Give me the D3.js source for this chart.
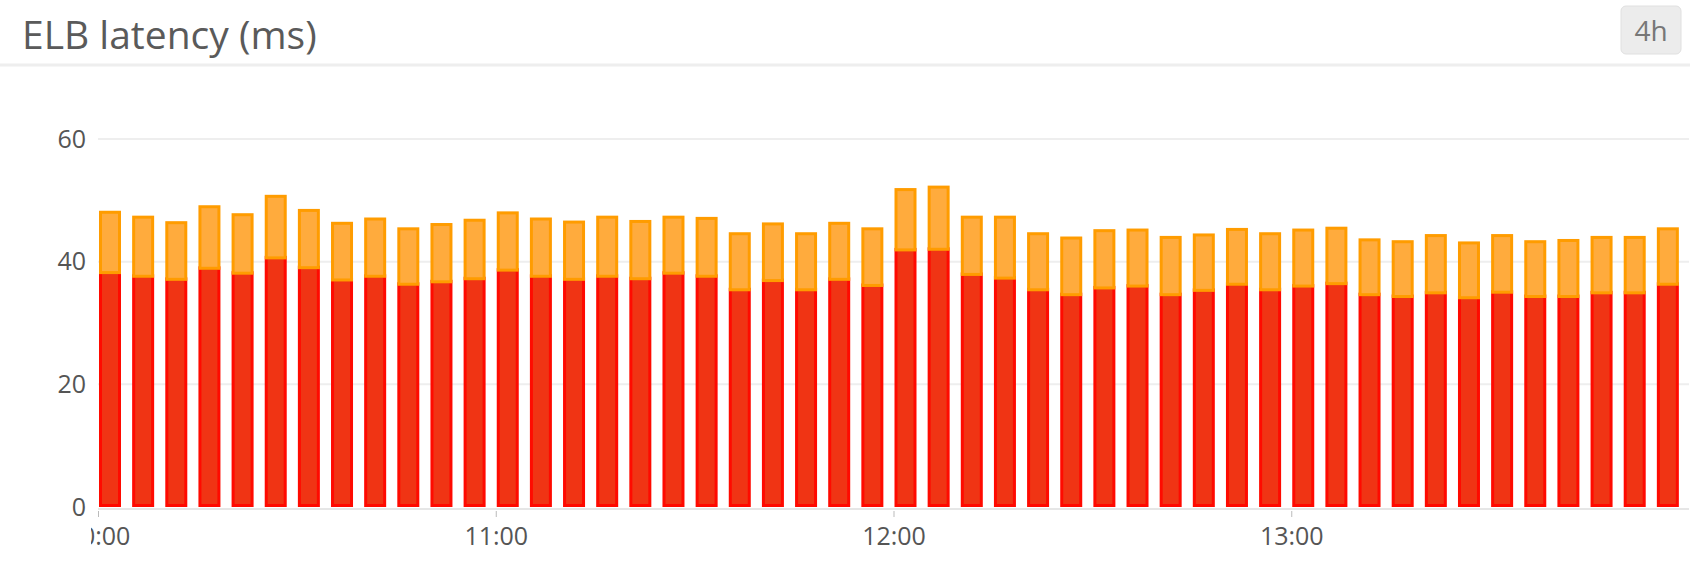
<!DOCTYPE html>
<html>
<head>
<meta charset="utf-8">
<script src="https://cdn.jsdelivr.net/npm/d3@7"></script>
<style>
  body { margin: 0; background: #fff; }
  text { font-family: "Open Sans", sans-serif; }
</style>
</head>
<body>
<script>
// 5 minute buckets, 10:00 -> 13:55
var times = ["10:00","10:05","10:10","10:15","10:20","10:25","10:30","10:35","10:40","10:45","10:50","10:55",
             "11:00","11:05","11:10","11:15","11:20","11:25","11:30","11:35","11:40","11:45","11:50","11:55",
             "12:00","12:05","12:10","12:15","12:20","12:25","12:30","12:35","12:40","12:45","12:50","12:55",
             "13:00","13:05","13:10","13:15","13:20","13:25","13:30","13:35","13:40","13:45","13:50","13:55"];

// lower (red) part of each bar
var latencyLow = [38.3,37.7,37.2,39.0,38.2,40.7,39.1,37.1,37.7,36.4,36.8,37.3,
                  38.7,37.7,37.2,37.7,37.3,38.2,37.7,35.5,37.0,35.5,37.2,36.2,
                  42.0,42.1,38.0,37.4,35.5,34.7,35.8,36.1,34.7,35.4,36.4,35.5,
                  36.1,36.5,34.7,34.4,35.0,34.2,35.1,34.4,34.4,35.0,35.0,36.4];

// top of the orange part of each bar
var latencyHigh = [48.3,47.5,46.6,49.2,47.9,50.9,48.6,46.5,47.2,45.6,46.3,47.0,
                   48.2,47.2,46.7,47.5,46.8,47.5,47.3,44.8,46.4,44.8,46.5,45.6,
                   52.0,52.4,47.5,47.5,44.8,44.1,45.3,45.4,44.2,44.6,45.5,44.8,
                   45.4,45.7,43.8,43.5,44.5,43.3,44.5,43.5,43.7,44.2,44.2,45.6];

var yTicks = [0, 20, 40, 60];
var xTicks = ["10:00", "11:00", "12:00", "13:00"];

var W = 1694, H = 576;
var parse = d3.timeParse("%H:%M");

var svg = d3.select("body").append("svg")
    .attr("width", W)
    .attr("height", H);

// header
svg.append("text")
    .attr("x", 22)
    .attr("y", 49)
    .attr("font-size", "39px")
    .attr("fill", "#5a5a5a")
    .text("ELB latency (ms)");

svg.append("line")
    .attr("x1", 0).attr("x2", 1690)
    .attr("y1", 65).attr("y2", 65)
    .attr("stroke", "#eeeeee")
    .attr("stroke-width", 3);

svg.append("rect")
    .attr("x", 1621).attr("y", 6)
    .attr("width", 60).attr("height", 48)
    .attr("rx", 5)
    .attr("fill", "#ececec")
    .attr("stroke", "#e0e0e0");

svg.append("text")
    .attr("x", 1651).attr("y", 41)
    .attr("text-anchor", "middle")
    .attr("font-size", "28px")
    .attr("fill", "#777")
    .text("4h");

// scales
var x = d3.scaleTime()
    .domain([parse("10:00"), parse("14:00")])
    .range([98, 1689]);

var y = d3.scaleLinear()
    .domain([0, 60])
    .range([507, 139]);

// grid
svg.append("g")
    .selectAll("line")
    .data(yTicks.filter(function(d) { return d > 0; }))
    .enter()
    .append("line")
    .attr("x1", 98).attr("x2", 1689)
    .attr("y1", function(d) { return y(d); })
    .attr("y2", function(d) { return y(d); })
    .attr("stroke", "#eeeeee")
    .attr("stroke-width", 2);

// y axis labels
var yAxis = svg.append("g")
    .attr("transform", "translate(98,0)")
    .call(d3.axisLeft(y).tickValues(yTicks).tickSize(0).tickPadding(12));
yAxis.select(".domain").remove();
yAxis.selectAll("text")
    .attr("font-size", "25px")
    .attr("font-family", "Open Sans, sans-serif")
    .attr("fill", "#555");

// bars
var barW = 22;
var bars = svg.append("g");

bars.selectAll("rect.low")
    .data(times)
    .enter()
    .append("rect")
    .attr("class", "low")
    .attr("x", function(d) { return x(parse(d)) + 2.5; })
    .attr("y", function(d, i) { return y(latencyLow[i]); })
    .attr("width", barW - 3)
    .attr("height", function(d, i) { return y(0) - y(latencyLow[i]) - 1.5; })
    .attr("fill", "#f03414")
    .attr("stroke", "#ff0a00")
    .attr("stroke-width", 3);

bars.selectAll("rect.high")
    .data(times)
    .enter()
    .append("rect")
    .attr("class", "high")
    .attr("x", function(d) { return x(parse(d)) + 2.5; })
    .attr("y", function(d, i) { return y(latencyHigh[i]) + 1.5; })
    .attr("width", barW - 3)
    .attr("height", function(d, i) { return y(latencyLow[i]) - y(latencyHigh[i]) - 1; })
    .attr("fill", "#ffab3d")
    .attr("stroke", "#ff9c00")
    .attr("stroke-width", 3);

// baseline
svg.append("line")
    .attr("x1", 98).attr("x2", 1689)
    .attr("y1", y(0) + 2).attr("y2", y(0) + 2)
    .attr("stroke", "#e6e6e6")
    .attr("stroke-width", 2);

// x axis, first label is cut at the plot edge
var axisY = y(0) + 4;
svg.append("clipPath")
    .attr("id", "xclip")
    .append("rect")
    .attr("x", 91).attr("y", -6)
    .attr("width", 1603).attr("height", 70);

var xAxis = svg.append("g")
    .attr("transform", "translate(0," + axisY + ")")
    .attr("clip-path", "url(#xclip)")
    .call(d3.axisBottom(x)
        .tickValues(xTicks.map(parse))
        .tickSize(6)
        .tickPadding(10)
        .tickFormat(d3.timeFormat("%H:%M")));
xAxis.select(".domain").remove();
xAxis.selectAll("line").attr("stroke", "#bbb");
xAxis.selectAll("text")
    .attr("font-size", "25px")
    .attr("font-family", "Open Sans, sans-serif")
    .attr("fill", "#555");
</script>
</body>
</html>
